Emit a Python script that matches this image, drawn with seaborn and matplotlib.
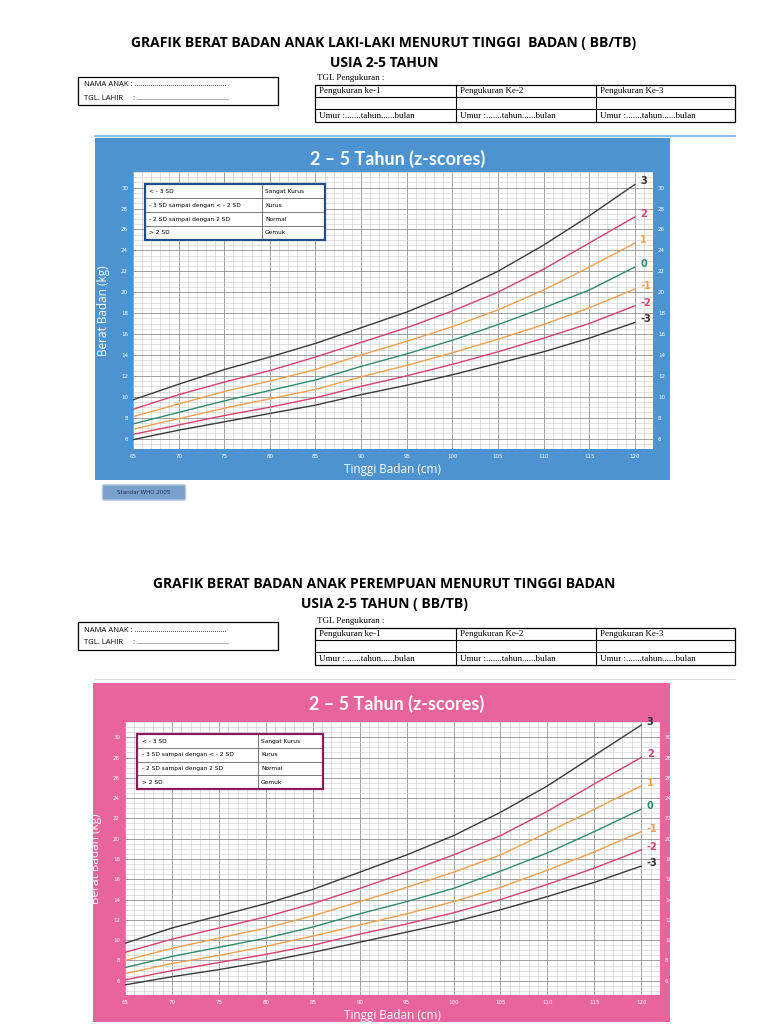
import numpy as np
import pandas as pd
import matplotlib
matplotlib.use("Agg")
import matplotlib.pyplot as plt
from matplotlib.patches import Rectangle, FancyBboxPatch
import seaborn as sns

heights = [65, 70, 75, 80, 85, 90, 95, 100, 105, 110, 115, 120]
boy = {
    "3":  [9.7, 11.2, 12.6, 13.8, 15.1, 16.6, 18.1, 19.9, 22.0, 24.5, 27.3, 30.3],
    "2":  [8.8, 10.2, 11.4, 12.5, 13.8, 15.2, 16.6, 18.2, 20.0, 22.2, 24.7, 27.2],
    "1":  [8.1, 9.3, 10.5, 11.5, 12.6, 14.0, 15.3, 16.7, 18.3, 20.2, 22.4, 24.7],
    "0":  [7.4, 8.5, 9.6, 10.6, 11.6, 12.9, 14.1, 15.4, 16.9, 18.5, 20.2, 22.4],
    "-1": [6.9, 7.9, 8.9, 9.8, 10.7, 11.9, 13.0, 14.2, 15.5, 16.9, 18.5, 20.3],
    "-2": [6.4, 7.3, 8.2, 9.0, 9.9, 11.0, 12.0, 13.1, 14.3, 15.6, 17.0, 18.7],
    "-3": [5.9, 6.8, 7.6, 8.4, 9.2, 10.2, 11.1, 12.1, 13.2, 14.3, 15.6, 17.1],
}
girl = {
    "3":  [9.7, 11.2, 12.4, 13.6, 15.0, 16.7, 18.4, 20.3, 22.6, 25.2, 28.2, 31.2],
    "2":  [8.8, 10.1, 11.2, 12.3, 13.6, 15.1, 16.7, 18.4, 20.3, 22.7, 25.4, 28.0],
    "1":  [8.0, 9.2, 10.2, 11.2, 12.4, 13.8, 15.2, 16.7, 18.4, 20.6, 22.9, 25.2],
    "0":  [7.3, 8.4, 9.3, 10.2, 11.3, 12.6, 13.8, 15.1, 16.8, 18.6, 20.7, 22.9],
    "-1": [6.7, 7.7, 8.5, 9.4, 10.4, 11.5, 12.6, 13.8, 15.2, 16.9, 18.7, 20.7],
    "-2": [6.1, 7.0, 7.8, 8.6, 9.5, 10.6, 11.6, 12.7, 14.0, 15.5, 17.1, 18.9],
    "-3": [5.6, 6.4, 7.1, 7.9, 8.8, 9.8, 10.8, 11.8, 13.0, 14.3, 15.7, 17.3],
}
line_colors = {"3": "#3a3a3a", "2": "#d8406e", "1": "#f0a050", "0": "#2e8b6b",
               "-1": "#f0a050", "-2": "#d8406e", "-3": "#3a3a3a"}
label_colors = {"3": "#333333", "2": "#d8406e", "1": "#f0a040", "0": "#2e8b6b",
                "-1": "#f0a040", "-2": "#d8406e", "-3": "#333333"}
legend_rows = [("< - 3 SD", "Sangat Kurus"), ("- 3 SD sampai dengan < - 2 SD", "Kurus"),
               ("- 2 SD sampai dengan 2 SD", "Normal"), ("> 2 SD", "Gemuk")]
x_ticks = [65, 70, 75, 80, 85, 90, 95, 100, 105, 110, 115, 120]
y_ticks = [6, 8, 10, 12, 14, 16, 18, 20, 22, 24, 26, 28, 30]

W, H = 768, 1024
fig = plt.figure(figsize=(7.68, 10.24), dpi=100)
fig.patch.set_facecolor("white")

def fx(x): return x / W
def fy(y): return 1 - y / H

def rect_px(x0, y0, x1, y1, zorder=1, **kw):
    fig.add_artist(Rectangle((fx(x0), fy(y1)), fx(x1) - fx(x0), fy(y0) - fy(y1),
                             transform=fig.transFigure, zorder=zorder, **kw))

def line_px(x0, y0, x1, y1, **kw):
    fig.add_artist(plt.Line2D([fx(x0), fx(x1)], [fy(y0), fy(y1)], transform=fig.transFigure, **kw))

def header(t1, t2, ty, boxy, tably):
    fig.text(0.5, fy(ty), t1, ha="center", va="center", fontsize=10, fontweight="bold", family="Open Sans")
    fig.text(0.5, fy(ty + 20), t2, ha="center", va="center", fontsize=10, fontweight="bold", family="Open Sans")
    rect_px(78, boxy, 278, boxy + 28, fill=False, edgecolor="black", lw=0.9)
    fig.text(fx(84), fy(boxy + 8), "NAMA ANAK : " + "." * 46, fontsize=5.5, va="center", family="Open Sans")
    fig.text(fx(84), fy(boxy + 21), "TGL. LAHIR     : " + "." * 46, fontsize=5.5, va="center", family="Open Sans")
    fig.text(fx(317), fy(tably - 7), "TGL Pengukuran :", fontsize=6.5, va="center", family="Liberation Serif")
    rect_px(315, tably, 735, tably + 37, fill=False, edgecolor="black", lw=0.9)
    line_px(315, tably + 12, 735, tably + 12, color="black", lw=0.8)
    line_px(315, tably + 24, 735, tably + 24, color="black", lw=0.8)
    for cx in (456, 596):
        line_px(cx, tably, cx, tably + 37, color="black", lw=0.8)
    for i, cx in enumerate((315, 456, 596)):
        nm = "Pengukuran ke-1" if i == 0 else f"Pengukuran Ke-{i+1}"
        fig.text(fx(cx + 4), fy(tably + 6), nm, fontsize=6.5, va="center", family="Liberation Serif")
        fig.text(fx(cx + 4), fy(tably + 31), "Umur :.......tahun......bulan", fontsize=6.5, va="center",
                 family="Liberation Serif")

def chart(panel, plot, bg, frame, data, ylim, xlim):
    px0, py0, px1, py1 = panel
    rect_px(px0, py0, px1, py1, zorder=-2, facecolor=bg, edgecolor="none")
    fig.text(fx((px0 + px1) / 2 + 15), fy(py0 + 21), "2 – 5 Tahun (z-scores)", ha="center", va="center",
             fontsize=13, fontweight="bold", color="white", family="Lato")
    a0, b0, a1, b1 = plot
    ax = fig.add_axes([fx(a0), fy(b1), fx(a1) - fx(a0), fy(b0) - fy(b1)])
    ax.set_zorder(2)
    ax.set_facecolor("white")
    rows = []
    for z, vals in data.items():
        for h, v in zip(heights, vals):
            rows.append({"tinggi": h, "berat": v, "z": z})
    df = pd.DataFrame(rows)
    sns.lineplot(data=df, x="tinggi", y="berat", hue="z", palette=line_colors, ax=ax,
                 legend=False, lw=1.0, zorder=3)
    ax.set_xlim(*xlim)
    ax.set_ylim(*ylim)
    ax.set_xticks(x_ticks)
    ax.set_yticks(y_ticks)
    ax.set_xticks(np.arange(65, 123, 1), minor=True)
    ax.set_yticks(np.arange(5, 32, 0.5), minor=True)
    ax.grid(which="minor", color="#c8c8c8", lw=0.4)
    ax.grid(which="major", color="#909090", lw=0.6)
    ax.tick_params(which="both", length=0, colors="white", labelsize=4)
    ax.tick_params(axis="y", right=True, labelright=True)
    for s in ax.spines.values():
        s.set_visible(False)
    ax.set_xlabel("Tinggi Badan (cm)", color="white", fontsize=8.5, family="Open Sans", labelpad=3)
    ax.set_ylabel("Berat Badan (kg)", color="white", fontsize=8.5, family="Open Sans", labelpad=8)
    for z, vals in data.items():
        ax.text(120.6, vals[-1] + 0.3, z, color=label_colors[z], fontsize=7, fontweight="bold",
                va="center", ha="left", clip_on=False, zorder=5)
    lx0, lx1, ly1, ly0, split = 0.023, 0.37, 0.955, 0.755, 0.248
    ax.add_patch(Rectangle((lx0, ly0), lx1 - lx0, ly1 - ly0, transform=ax.transAxes,
                           facecolor="white", edgecolor=frame, lw=1.6, zorder=6))
    hgt = (ly1 - ly0) / 4
    for i, (a, b) in enumerate(legend_rows):
        yc = ly1 - hgt * (i + 0.5)
        ax.text(lx0 + 0.008, yc, a, transform=ax.transAxes, fontsize=4.2, va="center", zorder=7)
        ax.text(split + 0.006, yc, b, transform=ax.transAxes, fontsize=4.2, va="center", zorder=7)
        if i > 0:
            ax.plot([lx0, lx1], [ly1 - hgt * i] * 2, transform=ax.transAxes, color="#444444", lw=0.5, zorder=7)
    ax.plot([split, split], [ly0, ly1], transform=ax.transAxes, color="#444444", lw=0.5, zorder=7)
    return ax

header("GRAFIK BERAT BADAN ANAK LAKI-LAKI MENURUT TINGGI  BADAN ( BB/TB)", "USIA 2-5 TAHUN", 43, 77, 85)
line_px(95, 136, 735, 136, color="#7aaee0", lw=1.2)
chart((95, 138, 670, 480), (133, 172, 653, 449), "#4d93d0", "#1f4e8a", boy, (5.0, 31.0), (65, 122))
fig.add_artist(FancyBboxPatch((fx(104), fy(498)), fx(80), fy(487) - fy(498), boxstyle="round,pad=0.002",
                              transform=fig.transFigure, facecolor="#7aa0cc", edgecolor="#b0c4de"))
fig.text(fx(144), fy(492.5), "Standar WHO 2005", ha="center", va="center", fontsize=4, color="#223355")

header("GRAFIK BERAT BADAN ANAK PEREMPUAN MENURUT TINGGI BADAN", "USIA 2-5 TAHUN ( BB/TB)", 584, 622, 628)
line_px(95, 679, 735, 679, color="#dddddd", lw=0.8)
chart((93, 683, 670, 1022), (125, 722, 660, 995), "#e8649c", "#8a1a5a", girl, (4.6, 31.5), (65, 121))

fig.savefig("out.png", dpi=100, facecolor="white")
